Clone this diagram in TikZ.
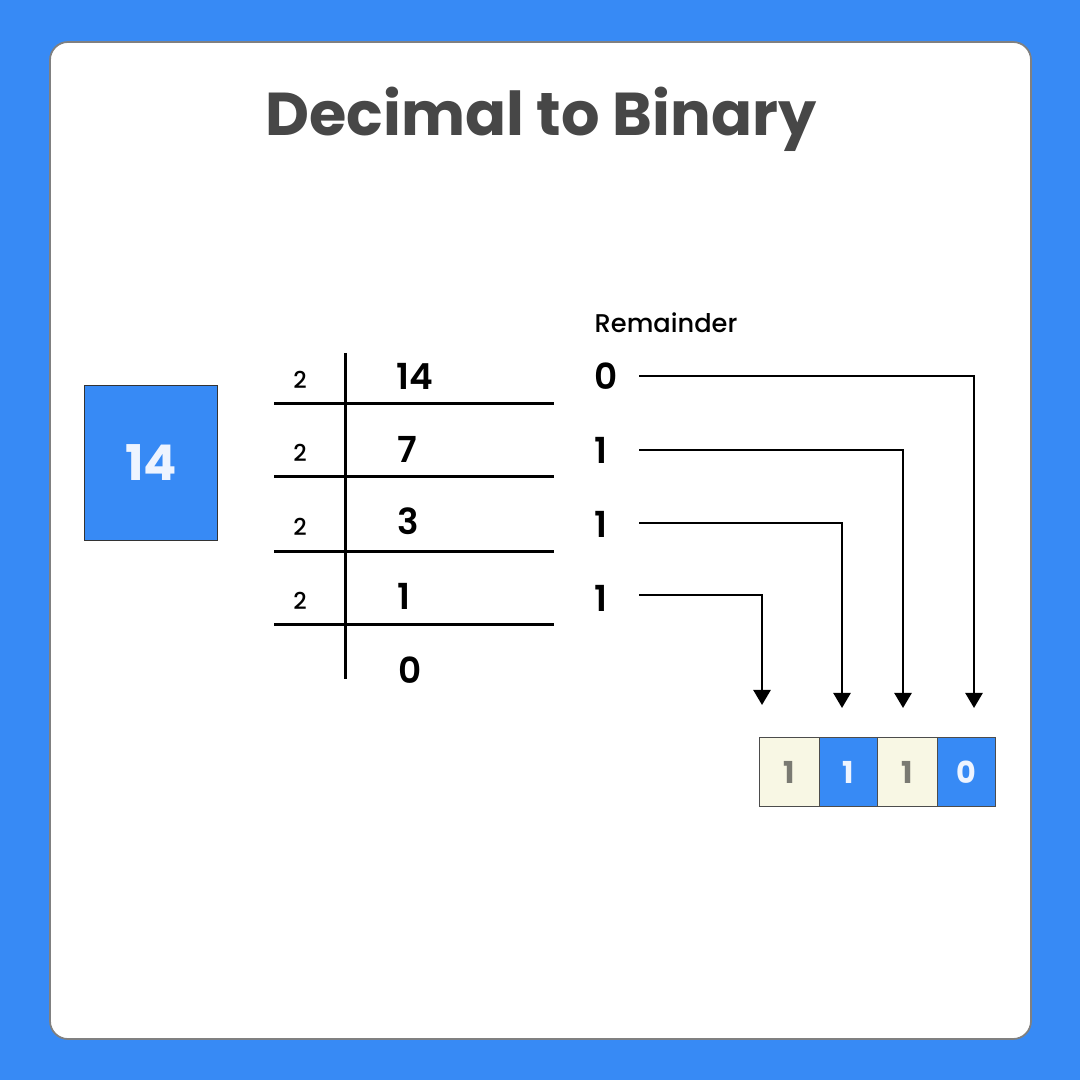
\documentclass[tikz,border=0pt]{standalone}
\usepackage{fontspec}
\setmainfont{Poppins}
\newfontfamily\pmed{Poppins Medium}
\newfontfamily\psemi{Poppins SemiBold}
\usetikzlibrary{arrows.meta}
\definecolor{bgblue}{HTML}{378AF5}
\definecolor{titlegray}{HTML}{474747}
\definecolor{cream}{HTML}{F8F7E4}
\definecolor{digitgray}{HTML}{7A7A72}
\definecolor{paleblue}{HTML}{EEF4FF}
\begin{document}
\begin{tikzpicture}[x=0.01cm,y=-0.01cm,
  rule/.style={line width=3\unitpx},
  conn/.style={line width=2.4\unitpx,-{Triangle[length=15\unitpx,width=17\unitpx]}},
  quot/.style={anchor=west,inner sep=0pt,font=\psemi\fontsize{10.2}{12}\selectfont},
  divisor/.style={inner sep=0pt,font=\pmed\fontsize{6.6}{8}\selectfont},
  bitbox/.style={draw=black!70,line width=1\unitpx,minimum width=59\unitpx,minimum height=68\unitpx,inner sep=0pt,font=\bfseries\fontsize{8.6}{10}\selectfont},
]
\def\unitpx{*0.2845pt}
\path[use as bounding box,fill=bgblue] (0,0) rectangle (1080,1080);
\draw[fill=white,draw=gray,line width=0.5pt,rounded corners=18\unitpx] (50,42) rectangle (1031,1039);

\node[font=\bfseries\fontsize{17.2}{21}\selectfont,text=titlegray] (title) at (541,119) {Decimal to Binary};

\node[draw=black!80,line width=1\unitpx,fill=bgblue,minimum width=132\unitpx,minimum height=154\unitpx,inner sep=0pt,text=paleblue,font=\bfseries\fontsize{14}{16}\selectfont] (num) at (151,463) {14};

% division table
\coordinate (vtop) at (345.5,353);
\coordinate (vbot) at (345.5,679);
\draw[rule] (vtop) -- (vbot);
\foreach \y [count=\i] in {404,477,551,624}{
  \coordinate (hl\i) at (274,\y);
  \coordinate (hr\i) at (554,\y);
  \draw[rule] (hl\i) -- (hr\i);
}
\foreach \y [count=\i] in {380,453,527,601}{
  \node[divisor] (d\i) at (300,\y) {2};
}
\node[quot] (q1) at (396,376) {14};
\node[quot] (q2) at (397,449) {7};
\node[quot] (q3) at (397,521) {3};
\node[quot] (q4) at (397,596) {1};
\node[quot] (q5) at (398,670) {0};

\node[anchor=west,inner sep=0pt,font=\pmed\fontsize{7.3}{9}\selectfont] (remlabel) at (594,323) {Remainder};
\node[quot] (r1) at (594,376) {0};
\node[quot] (r2) at (594,450) {1};
\node[quot] (r3) at (594,524) {1};
\node[quot] (r4) at (594,598) {1};

% result boxes
\node[bitbox,fill=cream,text=digitgray,minimum width=60\unitpx] (b1) at (789,772) {1};
\node[bitbox,fill=bgblue,text=paleblue,minimum width=58\unitpx] (b2) at (848,772) {1};
\node[bitbox,fill=cream,text=digitgray,minimum width=60\unitpx] (b3) at (907,772) {1};
\node[bitbox,fill=bgblue,text=paleblue,minimum width=58\unitpx] (b4) at (966,772) {0};

% connectors
\coordinate (s1) at (639,376);
\coordinate (s2) at (639,450);
\coordinate (s3) at (639,523);
\coordinate (s4) at (639,595);
\coordinate (t1) at (974,708);
\coordinate (t2) at (903,708);
\coordinate (t3) at (842,708);
\coordinate (t4) at (762,705);
\draw[conn] (s1) -| (t1);
\draw[conn] (s2) -| (t2);
\draw[conn] (s3) -| (t3);
\draw[conn] (s4) -| (t4);
\end{tikzpicture}
\end{document}
